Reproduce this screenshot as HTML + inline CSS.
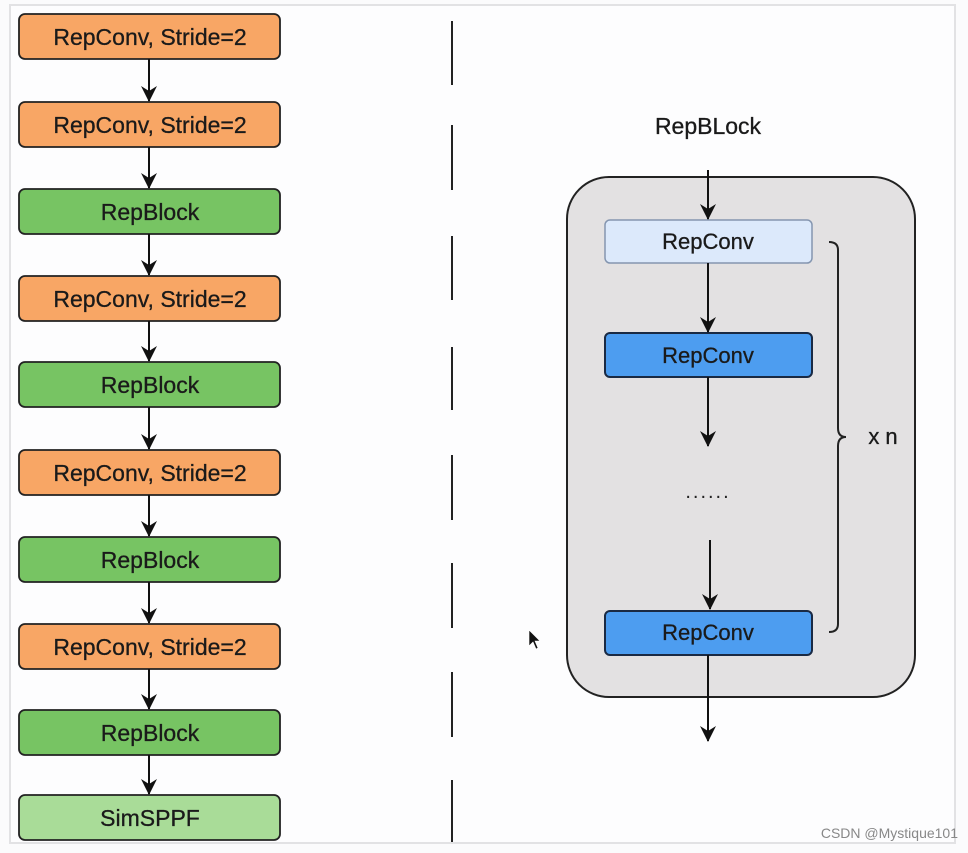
<!DOCTYPE html>
<html><head><meta charset="utf-8"><style>
html,body{margin:0;padding:0;background:#fff;}
svg{display:block;}
text{font-family:"Liberation Sans",Arial,sans-serif;}
</style></head><body>
<svg width="968" height="853" viewBox="0 0 968 853" xmlns="http://www.w3.org/2000/svg">
<defs>
<marker id="ah2" viewBox="0 0 16 16" refX="15" refY="8" markerWidth="16" markerHeight="16" markerUnits="userSpaceOnUse" orient="auto">
<path d="M0,0 L16,8 L0,16 L5,8 Z" fill="#111"/></marker>
</defs>
<rect x="0" y="0" width="968" height="853" fill="#fbfbfc"/>
<rect x="10" y="5" width="945" height="838" fill="#fdfdfe" stroke="#e2e2e4" stroke-width="2"/>
<g stroke="#222" stroke-width="1.8">
<rect x="19" y="14" width="261" height="45" rx="6" fill="#f8a665"/>
<rect x="19" y="102" width="261" height="45" rx="6" fill="#f8a665"/>
<rect x="19" y="189" width="261" height="45" rx="6" fill="#77c463"/>
<rect x="19" y="276" width="261" height="45" rx="6" fill="#f8a665"/>
<rect x="19" y="362" width="261" height="45" rx="6" fill="#77c463"/>
<rect x="19" y="450" width="261" height="45" rx="6" fill="#f8a665"/>
<rect x="19" y="537" width="261" height="45" rx="6" fill="#77c463"/>
<rect x="19" y="624" width="261" height="45" rx="6" fill="#f8a665"/>
<rect x="19" y="710" width="261" height="45" rx="6" fill="#77c463"/>
<rect x="19" y="795" width="261" height="45" rx="6" fill="#a9dc98"/>
</g>
<g font-size="23" fill="#1a1a1a" text-anchor="middle" stroke="#1a1a1a" stroke-width="0.3">
<text x="150" y="45">RepConv, Stride=2</text>
<text x="150" y="133">RepConv, Stride=2</text>
<text x="150" y="220">RepBlock</text>
<text x="150" y="307">RepConv, Stride=2</text>
<text x="150" y="393">RepBlock</text>
<text x="150" y="481">RepConv, Stride=2</text>
<text x="150" y="568">RepBlock</text>
<text x="150" y="655">RepConv, Stride=2</text>
<text x="150" y="741">RepBlock</text>
<text x="150" y="826">SimSPPF</text>
</g>
<g stroke="#111" stroke-width="2" marker-end="url(#ah2)">
<line x1="149" y1="59" x2="149" y2="101"/>
<line x1="149" y1="147" x2="149" y2="188"/>
<line x1="149" y1="234" x2="149" y2="275"/>
<line x1="149" y1="321" x2="149" y2="361"/>
<line x1="149" y1="407" x2="149" y2="449"/>
<line x1="149" y1="495" x2="149" y2="536"/>
<line x1="149" y1="582" x2="149" y2="623"/>
<line x1="149" y1="669" x2="149" y2="709"/>
<line x1="149" y1="755" x2="149" y2="794"/>
</g>
<g stroke="#222" stroke-width="2">
<line x1="452" y1="21" x2="452" y2="85"/>
<line x1="452" y1="125" x2="452" y2="190"/>
<line x1="452" y1="236" x2="452" y2="300"/>
<line x1="452" y1="347" x2="452" y2="410"/>
<line x1="452" y1="455" x2="452" y2="520"/>
<line x1="452" y1="563" x2="452" y2="628"/>
<line x1="452" y1="672" x2="452" y2="737"/>
<line x1="452" y1="780" x2="452" y2="842"/>
</g>
<text x="708" y="134" font-size="23" text-anchor="middle" fill="#1a1a1a" stroke="#1a1a1a" stroke-width="0.3">RepBLock</text>
<rect x="567" y="177" width="348" height="520" rx="42" fill="#e3e1e2" stroke="#222" stroke-width="2"/>
<rect x="605" y="220" width="207" height="43" rx="5" fill="#dce9fb" stroke="#8596b0" stroke-width="1.5"/>
<rect x="605" y="333" width="207" height="44" rx="5" fill="#4d9df0" stroke="#1a2a44" stroke-width="2"/>
<rect x="605" y="611" width="207" height="44" rx="5" fill="#4d9df0" stroke="#1a2a44" stroke-width="2"/>
<g font-size="22" text-anchor="middle" fill="#1a1a1a" stroke="#1a1a1a" stroke-width="0.3">
<text x="708" y="249">RepConv</text>
<text x="708" y="363">RepConv</text>
<text x="708" y="640">RepConv</text>
</g>
<g stroke="#111" stroke-width="2" marker-end="url(#ah2)">
<line x1="708" y1="170" x2="708" y2="219"/>
<line x1="708" y1="263" x2="708" y2="332"/>
<line x1="708" y1="377" x2="708" y2="446"/>
<line x1="710" y1="540" x2="710" y2="609"/>
<line x1="708" y1="655" x2="708" y2="741"/>
</g>
<text x="708" y="498" font-size="20" text-anchor="middle" fill="#222" letter-spacing="2">......</text>
<path d="M829,242 Q838,242 838,250 L838,428 Q838,437 846,437 Q838,437 838,446 L838,624 Q838,632 829,632" fill="none" stroke="#222" stroke-width="2"/>
<text x="883" y="444" font-size="22" text-anchor="middle" fill="#1a1a1a" stroke="#1a1a1a" stroke-width="0.3">x n</text>
<path d="M529,630 L529,646 L533,642 L536,649 L538,648 L535,641 L540,641 Z" fill="#111" stroke="#fff" stroke-width="0.6"/>
<text x="958" y="838" font-size="14" text-anchor="end" fill="#888">CSDN @Mystique101</text>
</svg>
</body></html>
